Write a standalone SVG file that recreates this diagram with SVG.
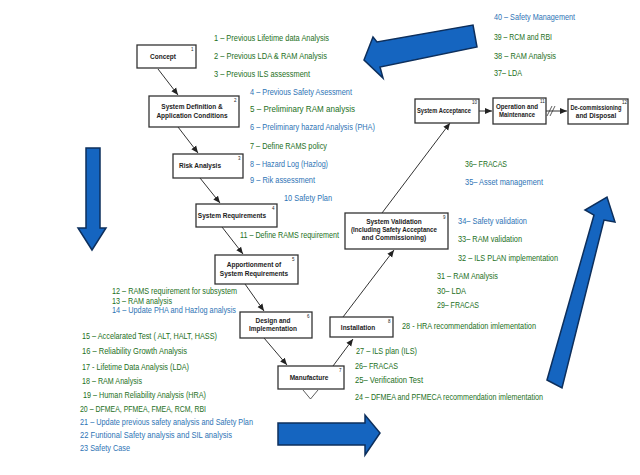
<svg xmlns="http://www.w3.org/2000/svg" width="640" height="475" viewBox="0 0 640 475">
<defs>
<marker id="ah" markerWidth="8" markerHeight="8" refX="7" refY="4" orient="auto" markerUnits="userSpaceOnUse"><path d="M0,1 L7,4 L0,7 z" fill="#222"/></marker>
<style>
.box{fill:#fff;stroke:#333;stroke-width:1.3}
.bl{font-family:"Liberation Sans",Arial,sans-serif;font-size:6.5px;font-weight:bold;fill:#222;text-anchor:middle}
.num{font-family:"Liberation Sans",Arial,sans-serif;font-size:4.5px;fill:#222}
.g{font-family:"Liberation Sans",Arial,sans-serif;font-size:9px;fill:#24701c}
.b{font-family:"Liberation Sans",Arial,sans-serif;font-size:9px;fill:#2e74b5}
.c{stroke:#333;stroke-width:1;fill:none;marker-end:url(#ah)}
.big{fill:#1565c0;stroke:#0d2f5c;stroke-width:1.5}
</style>
</defs>
<rect width="640" height="475" fill="#fff"/>
<g id="big-arrows">
<polygon class="big" points="86,148 100,148 100,228 106,228 92,250 78,228 86,228"/>
<polygon class="big" points="278,423 365,423 365,415 380,433 365,455 365,445 278,445"/>
<polygon class="big" points="547,380 594,215 585,210 607,197 615,222 604,220 562,388"/>
<polygon class="big" points="473,25 477,47 380,67 383,78 364,60 373,37 377,42"/>
</g>
<g id="connectors">
<line class="c" x1="158" y1="69" x2="178" y2="95"/>
<line class="c" x1="178" y1="127" x2="198" y2="153"/>
<line class="c" x1="200" y1="178" x2="220" y2="203"/>
<line class="c" x1="222" y1="227" x2="243" y2="254"/>
<line class="c" x1="245" y1="284" x2="264" y2="311"/>
<line class="c" x1="264" y1="338" x2="287" y2="365"/>
<line class="c" x1="333" y1="366" x2="353" y2="339"/>
<line class="c" x1="343" y1="317" x2="394" y2="250"/>
<line class="c" x1="382" y1="213" x2="450" y2="123"/>
<line class="c" x1="479" y1="111" x2="492" y2="111"/>
<line class="c" x1="546" y1="111" x2="567" y2="111"/>
<line x1="547" y1="116" x2="552" y2="106" stroke="#333" stroke-width="0.8"/>
<line x1="550" y1="116" x2="555" y2="106" stroke="#333" stroke-width="0.8"/>
<polyline points="303,390 310.5,399 318,390" fill="none" stroke="#333" stroke-width="0.8"/>
</g>
<g id="n1"><rect class="box" x="137" y="45" width="59" height="23"/><text class="bl" x="163" y="59">Concept</text><text class="num" x="191" y="51">1</text></g>
<g id="n2"><rect class="box" x="149" y="96" width="90" height="31"/><text class="bl" x="192" y="109">System Definition &amp;</text><text class="bl" x="192" y="118">Application Conditions</text><text class="num" x="234" y="102">2</text></g>
<g id="n3"><rect class="box" x="173" y="154" width="70" height="24"/><text class="bl" x="200" y="168">Risk Analysis</text><text class="num" x="238" y="160">3</text></g>
<g id="n4"><rect class="box" x="196" y="204" width="81" height="23"/><text class="bl" x="232" y="218">System Requirements</text><text class="num" x="272" y="210">4</text></g>
<g id="n5"><rect class="box" x="215" y="255" width="83" height="29"/><text class="bl" x="254" y="267">Apportionment of</text><text class="bl" x="254" y="276">System Requirements</text><text class="num" x="292" y="261">5</text></g>
<g id="n6"><rect class="box" x="240" y="312" width="72" height="26"/><text class="bl" x="273" y="323">Design and</text><text class="bl" x="273" y="331">Implementation</text><text class="num" x="307" y="318">6</text></g>
<g id="n7"><rect class="box" x="278" y="366" width="66" height="23"/><text class="bl" x="309" y="380">Manufacture</text><text class="num" x="339" y="372">7</text></g>
<g id="n8"><rect class="box" x="330" y="317" width="63" height="20"/><text class="bl" x="358" y="330">Installation</text><text class="num" x="388" y="323">8</text></g>
<g id="n9"><rect class="box" x="345" y="213" width="103" height="36"/><text class="bl" x="394" y="224">System Validation</text><text class="bl" x="394" y="232" textLength="86" lengthAdjust="spacingAndGlyphs">(Including Safety Acceptance</text><text class="bl" x="394" y="240">and Commissioning)</text><text class="num" x="443" y="219">9</text></g>
<g id="n10"><rect class="box" x="415" y="99" width="64" height="24"/><text class="bl" x="444" y="113" textLength="54" lengthAdjust="spacingAndGlyphs">System Acceptance</text><text class="num" x="472" y="104">10</text></g>
<g id="n11"><rect class="box" x="493" y="98" width="53" height="26"/><text class="bl" x="517" y="109" textLength="42" lengthAdjust="spacingAndGlyphs">Operation and</text><text class="bl" x="517" y="117" textLength="36" lengthAdjust="spacingAndGlyphs">Maintenance</text><text class="num" x="540" y="103">11</text></g>
<g id="n12"><rect class="box" x="568" y="99" width="60" height="25" stroke-width="1.6"/><text class="bl" x="596" y="110" textLength="51" lengthAdjust="spacingAndGlyphs">De-commissioning</text><text class="bl" x="596" y="118">and Disposal</text><text class="num" x="622" y="104">12</text></g>
<g id="labels">
<text class="g" x="214" y="41" textLength="115" lengthAdjust="spacingAndGlyphs">1 – Previous Lifetime data Analysis</text>
<text class="g" x="214" y="59" textLength="113" lengthAdjust="spacingAndGlyphs">2 – Previous LDA &amp; RAM Analysis</text>
<text class="g" x="214" y="77" textLength="96" lengthAdjust="spacingAndGlyphs">3 – Previous ILS assessment</text>
<text class="b" x="250" y="95" textLength="102" lengthAdjust="spacingAndGlyphs">4 – Previous Safety Asessment</text>
<text class="g" x="250" y="112" textLength="105" lengthAdjust="spacingAndGlyphs">5 – Preliminary RAM analysis</text>
<text class="b" x="250" y="130" textLength="125" lengthAdjust="spacingAndGlyphs">6 – Preliminary hazard Analysis (PHA)</text>
<text class="g" x="250" y="149" textLength="77" lengthAdjust="spacingAndGlyphs">7 – Define RAMS policy</text>
<text class="b" x="250" y="167" textLength="78" lengthAdjust="spacingAndGlyphs">8 – Hazard Log (Hazlog)</text>
<text class="b" x="250" y="183" textLength="65" lengthAdjust="spacingAndGlyphs">9 – Rik assessment</text>
<text class="b" x="284" y="201" textLength="48" lengthAdjust="spacingAndGlyphs">10 Safety Plan</text>
<text class="g" x="240" y="238" textLength="99" lengthAdjust="spacingAndGlyphs">11 – Define RAMS requirement</text>
<text class="g" x="112" y="294" textLength="125" lengthAdjust="spacingAndGlyphs">12 – RAMS requirement for subsystem</text>
<text class="g" x="112" y="304" textLength="60" lengthAdjust="spacingAndGlyphs">13 – RAM analysis</text>
<text class="b" x="112" y="313" textLength="124" lengthAdjust="spacingAndGlyphs">14 – Update  PHA and Hazlog analysis</text>
<text class="g" x="82" y="339" textLength="135" lengthAdjust="spacingAndGlyphs">15 – Accelarated Test ( ALT, HALT, HASS)</text>
<text class="g" x="82" y="354" textLength="105" lengthAdjust="spacingAndGlyphs">16 – Reliability Growth  Analysis</text>
<text class="g" x="82" y="370" textLength="107" lengthAdjust="spacingAndGlyphs">17 - Lifetime Data Analysis (LDA)</text>
<text class="g" x="82" y="384" textLength="60" lengthAdjust="spacingAndGlyphs">18 – RAM Analysis</text>
<text class="g" x="83" y="398" textLength="123" lengthAdjust="spacingAndGlyphs">19 – Human Reliability Analysis (HRA)</text>
<text class="g" x="80" y="412" textLength="126" lengthAdjust="spacingAndGlyphs">20 – DFMEA, PFMEA, FMEA, RCM, RBI</text>
<text class="b" x="80" y="425" textLength="173" lengthAdjust="spacingAndGlyphs">21 – Update previous safety analysis and Safety Plan</text>
<text class="b" x="80" y="438" textLength="152" lengthAdjust="spacingAndGlyphs">22   Funtional Safety analysis and SIL analysis</text>
<text class="b" x="80" y="451" textLength="50" lengthAdjust="spacingAndGlyphs">23 Safety Case</text>
<text class="g" x="355" y="400" textLength="188" lengthAdjust="spacingAndGlyphs">24 – DFMEA and PFMECA recommendation imlementation</text>
<text class="g" x="355" y="383" textLength="68" lengthAdjust="spacingAndGlyphs">25– Verification Test</text>
<text class="g" x="355" y="369" textLength="43" lengthAdjust="spacingAndGlyphs">26– FRACAS</text>
<text class="g" x="356" y="354" textLength="61" lengthAdjust="spacingAndGlyphs">27 – ILS plan (ILS)</text>
<text class="g" x="402" y="329" textLength="134" lengthAdjust="spacingAndGlyphs">28 - HRA recommendation imlementation</text>
<text class="g" x="437" y="308" textLength="42" lengthAdjust="spacingAndGlyphs">29– FRACAS</text>
<text class="g" x="437" y="294" textLength="29" lengthAdjust="spacingAndGlyphs">30– LDA</text>
<text class="g" x="437" y="279" textLength="61" lengthAdjust="spacingAndGlyphs">31 – RAM Analysis</text>
<text class="g" x="458" y="261" textLength="100" lengthAdjust="spacingAndGlyphs">32 – ILS PLAN implementation</text>
<text class="g" x="458" y="242" textLength="64" lengthAdjust="spacingAndGlyphs">33– RAM validation</text>
<text class="b" x="458" y="224" textLength="69" lengthAdjust="spacingAndGlyphs">34– Safety validation</text>
<text class="b" x="465" y="185" textLength="78" lengthAdjust="spacingAndGlyphs">35– Asset management</text>
<text class="g" x="465" y="167" textLength="42" lengthAdjust="spacingAndGlyphs">36– FRACAS</text>
<text class="g" x="494" y="76" textLength="28" lengthAdjust="spacingAndGlyphs">37– LDA</text>
<text class="g" x="494" y="59" textLength="62" lengthAdjust="spacingAndGlyphs">38 – RAM Analysis</text>
<text class="g" x="494" y="40" textLength="58" lengthAdjust="spacingAndGlyphs">39 – RCM and RBI</text>
<text class="b" x="494" y="20" textLength="81" lengthAdjust="spacingAndGlyphs">40 – Safety Management</text>
</g>
</svg>
